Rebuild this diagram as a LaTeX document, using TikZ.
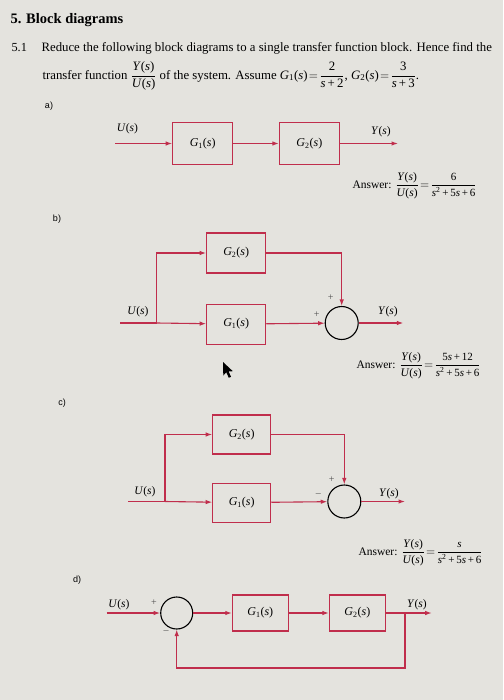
\documentclass[tikz,border=0pt]{standalone}
\usepackage{amsmath}
\usepackage{fontspec}
\setmainfont{Liberation Serif}
\setsansfont{Liberation Sans}
\usetikzlibrary{positioning,arrows.meta}

\definecolor{wirered}{RGB}{192,46,76}
\definecolor{paper}{RGB}{228,227,222}

\newcommand{\fn}[2]{\textit{#1}(\textit{#2})}
\newcommand{\tf}[3]{\textit{#1}\textsubscript{#2}(\textit{#3})}
\newcommand{\ans}[1]{Answer: $\dfrac{\text{\fn{Y}{s}}}{\text{\fn{U}{s}}}\!=\!\dfrac{\text{\fontsize{11}{13}\selectfont #1}}{\text{\fontsize{11}{13}\selectfont\textit{s}\textsuperscript{2}\,+\,5\textit{s}\,+\,6}}$}

\begin{document}
\begin{tikzpicture}[
    x=1pt, y=-1pt,
    every node/.style={font=\fontsize{11.5}{13}\selectfont},
    blk/.style={draw=wirered, line width=1.1pt, minimum width=59pt, minimum height=40pt, inner sep=0pt, font=\fontsize{12}{14}\selectfont},
    sumnode/.style={draw, circle, line width=1.1pt, minimum size=33pt, inner sep=0pt},
    sig/.style={draw=wirered, line width=1.1pt, -{Latex[length=6.5pt,width=4.5pt]}},
    wire/.style={draw=wirered, line width=1.1pt},
    sgn/.style={font=\fontsize{10}{11}\selectfont, text=black!70, inner sep=1pt},
    part/.style={font=\sffamily\fontsize{9}{10}\selectfont},
    qtext/.style={anchor=west, font=\fontsize{12.8}{14}\selectfont}
]
\fill[paper] (0,0) rectangle (503,700);
\useasboundingbox (0,0) rectangle (503,700);

% heading
\node[anchor=west, font=\bfseries\fontsize{14.5}{16}\selectfont] (title) at (7,20) {5. Block diagrams};
\node[qtext, font=\fontsize{12.3}{14}\selectfont] (qnum) at (8,48) {5.1};
\node[qtext] (qline1) at (38,48) {Reduce the following block diagrams to a single transfer function block. Hence find the};
\node[qtext] (qline2) at (39,76) {transfer function $\dfrac{\text{\fn{Y}{s}}}{\text{\fn{U}{s}}}$ of the system. Assume $\text{\tf{G}{1}{s}}\!=\!\dfrac{\text{2}}{\text{\textit{s}\,+\,2}}$, $\text{\tf{G}{2}{s}}\!=\!\dfrac{\text{3}}{\text{\textit{s}\,+\,3}}$.};

% a) series
\node[part] (la) at (49,106) {a)};
\coordinate (ua) at (115,143.5);
\node[blk, minimum width=60pt, minimum height=42pt] (g1a) at (202.7,143.5) {\tf{G}{1}{s}};
\node[blk, minimum width=60pt, minimum height=42pt, right=45.6pt of g1a] (g2a) {\tf{G}{2}{s}};
\coordinate (ya) at (398,143.5);
\draw[sig] (ua) -- (g1a);
\draw[sig] (g1a) -- (g2a);
\draw[sig] (g2a) -- (ya);
\node (lua) at (127.5,129) {\fn{U}{s}};
\node (lya) at (381,132) {\fn{Y}{s}};
\node[anchor=west] (ansa) at (349,186) {\ans{6}};

% b) parallel, both +
\node[part] (lb) at (57,219) {b)};
\node[blk] (g2b) at (236.2,253) {\tf{G}{2}{s}};
\node[blk, below=30pt of g2b] (g1b) {\tf{G}{1}{s}};
\node[sumnode] (sb) at (341.7,323) {};
\coordinate (ub) at (120,323);
\coordinate (brb) at (156.7,323);
\coordinate (yb) at (403.3,323);
\draw[wire] (ub) -- (brb);
\draw[sig] (brb) -- (g1b);
\draw[sig] (brb) |- (g2b);
\draw[sig] (g1b) -- (sb);
\draw[sig] (g2b) -| (sb);
\draw[sig] (sb) -- (yb);
\node[sgn] (pb1) at (330.7,297.3) {+};
\node[sgn] (pb2) at (316.7,314.3) {+};
\node (lub) at (138,312) {\fn{U}{s}};
\node (lyb) at (388,312) {\fn{Y}{s}};
\node[anchor=west] (ansb) at (353,366) {\ans{5\textit{s}\,+\,12}};
\fill[black] (223,362) -- (223.3,375.5) -- (226.3,372.3) -- (228.8,377.8) -- (231,376.8) -- (228.6,371.4) -- (232.8,371.2) -- cycle;

% c) parallel, G1 subtracted
\node[part] (lc) at (62,403) {c)};
\node[blk, minimum width=58pt, minimum height=39pt] (g2c) at (241.7,434.5) {\tf{G}{2}{s}};
\node[blk, minimum width=58pt, minimum height=39pt, below=28pt of g2c] (g1c) {\tf{G}{1}{s}};
\node[sumnode] (sc) at (344.3,501.5) {};
\coordinate (uc) at (128.3,501.5);
\coordinate (brc) at (165,501.5);
\coordinate (yc) at (405,501.5);
\draw[wire] (uc) -- (brc);
\draw[sig] (brc) -- (g1c);
\draw[sig] (brc) |- (g2c);
\draw[sig] (g1c) -- (sc);
\draw[sig] (g2c) -| (sc);
\draw[sig] (sc) -- (yc);
\node[sgn] (pc1) at (331.7,480) {+};
\node[sgn] (pc2) at (318.3,495) {--};
\node (luc) at (145,492) {\fn{U}{s}};
\node (lyc) at (389,494) {\fn{Y}{s}};
\node[anchor=west] (ansc) at (355,553) {\ans{\textit{s}}};

% d) unity feedback
\node[part] (ld) at (77,580) {d)};
\node[sumnode, minimum size=32pt] (sd) at (176.7,613) {};
\coordinate (ud) at (106.7,613);
\node[blk, minimum width=56pt, minimum height=36pt] (g1d) at (260.3,613) {\tf{G}{1}{s}};
\node[blk, minimum width=56pt, minimum height=36pt, right=40pt of g1d] (g2d) {\tf{G}{2}{s}};
\coordinate (brd) at (405,613);
\coordinate (yd) at (431.7,613);
\coordinate (fbd) at (405,668);
\draw[sig] (ud) -- (sd);
\draw[sig] (sd) -- (g1d);
\draw[sig] (g1d) -- (g2d);
\draw[wire] (g2d) -- (brd);
\draw[sig] (brd) -- (yd);
\draw[sig] (brd) -- (fbd) -| (sd);
\node[sgn] (pd1) at (154,603) {+};
\node[sgn] (pd2) at (166,632) {--};
\node (lud) at (119,605) {\fn{U}{s}};
\node (lyd) at (417,605) {\fn{Y}{s}};

\end{tikzpicture}
\end{document}
